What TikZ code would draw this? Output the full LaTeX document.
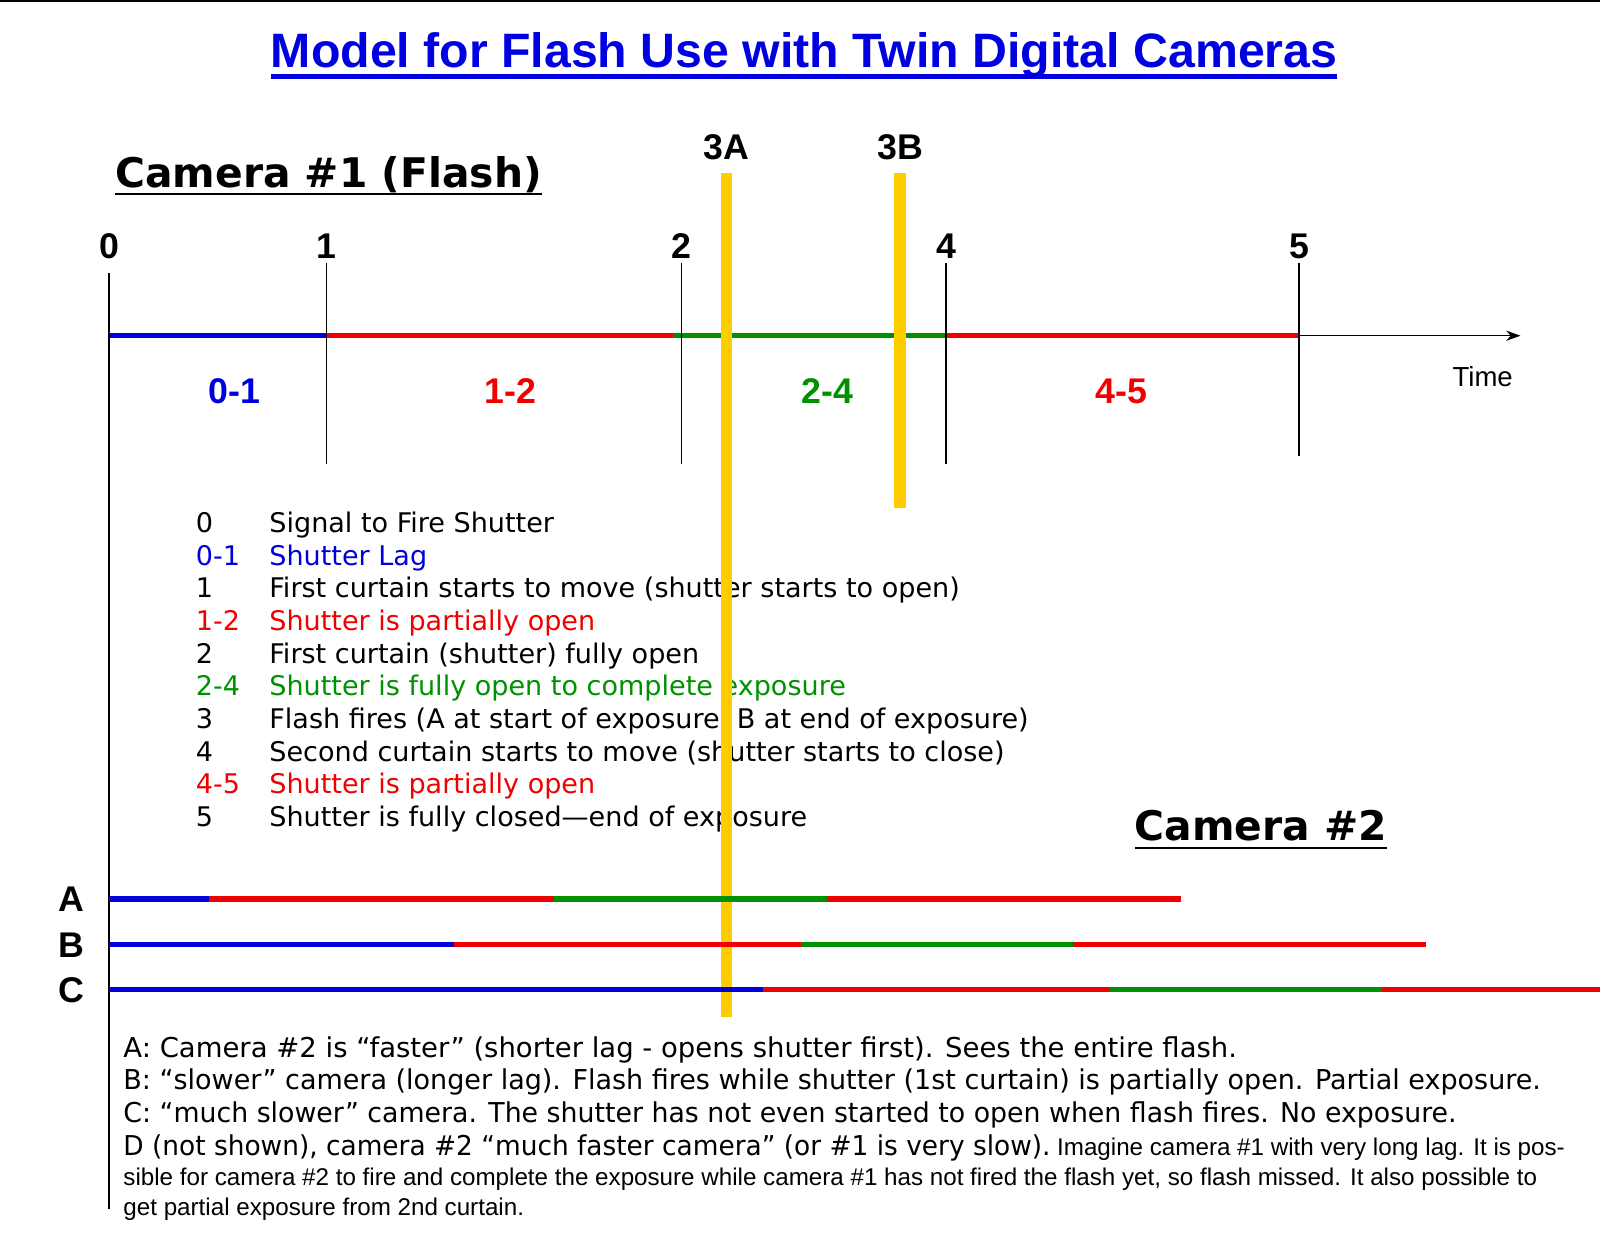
\documentclass[tikz,border=0pt]{standalone}
\usepackage{fontspec}
\usetikzlibrary{arrows.meta,calc}
\newfontfamily\arialf{Liberation Sans}
\newfontfamily\tahf{DejaVu Sans}
\definecolor{tblue}{RGB}{0,0,220}
\definecolor{tred}{RGB}{240,0,0}
\definecolor{tgreen}{RGB}{0,145,0}
\definecolor{flashcol}{RGB}{255,204,0}
\definecolor{titleblue}{RGB}{0,0,225}
\tikzset{
  txt/.style={inner sep=0pt, outer sep=0pt},
  seg/.style={line width=2.5pt},
  tickline/.style={line width=0.7pt, black},
  flashbar/.style={line width=5.5pt, flashcol},
  bignum/.style={txt, anchor=base, font=\arialf\bfseries\fontsize{17.5}{20}\selectfont},
  listnum/.style={txt, anchor=base west, font=\tahf\fontsize{13.25}{15}\selectfont},
  listtxt/.style={txt, anchor=base west, font=\tahf\fontsize{13.25}{15}\selectfont},
  bottomtxt/.style={txt, anchor=base west, font=\tahf\fontsize{13.4}{15}\selectfont},
  smalltxt/.style={txt, anchor=base west, font=\arialf\fontsize{11.85}{14}\selectfont},
  header/.style={txt, anchor=base west, font=\tahf\bfseries\fontsize{20}{24}\selectfont},
}
\begin{document}
\begin{tikzpicture}[x=0.5pt,y=-0.5pt]
\useasboundingbox (0,0) rectangle (1568,1211.3);
% top border
\draw[line width=1pt] (0,1) -- (1568,1);
% title
\node[txt, anchor=base, text=titleblue, font=\arialf\bfseries\fontsize{23.65}{28}\selectfont] (title) at (788,66) {Model for Flash Use with Twin Digital Cameras};
\draw[titleblue, line width=2pt] ($(title.base west)+(0,9)$) -- ($(title.base east)+(0,9)$);
% camera 1 header
\node[header] (cam1) at (113,184) {Camera \#1 (Flash)};
\draw[line width=1pt] ($(cam1.base west)+(0,6)$) -- ($(cam1.base east)+(0,6)$);
% axis coordinates
\coordinate (t0) at (107,329);
\coordinate (t1) at (320,329);
\coordinate (t2g) at (660,329);
\coordinate (t4) at (927,329);
\coordinate (t5) at (1273,329);
\coordinate (tend) at (1490,329);
\draw[seg, tblue] (t0) -- (t1);
\draw[seg, tred] (t1) -- (t2g);
\draw[seg, tgreen] (t2g) -- (t4);
\draw[seg, tred] (t4) -- (t5);
\draw[tickline, -{Stealth[length=7pt,width=5pt]}] (t5) -- (tend);
% tick lines
\coordinate (v0a) at (107,268); \coordinate (v0b) at (107,1185);
\coordinate (v1a) at (320,258); \coordinate (v1b) at (320,455);
\coordinate (v2a) at (668,258); \coordinate (v2b) at (668,455);
\coordinate (v4a) at (927,258); \coordinate (v4b) at (927,455);
\coordinate (v5a) at (1273,258); \coordinate (v5b) at (1273,447);
\draw[tickline] (v0a) -- (v0b);
\draw[tickline] (v1a) -- (v1b);
\draw[tickline] (v2a) -- (v2b);
\draw[tickline] (v4a) -- (v4b);
\draw[tickline] (v5a) -- (v5b);
% tick numbers
\node[bignum] (n0) at (107,253) {0};
\node[bignum] (n1) at (320,253) {1};
\node[bignum] (n2) at (668,253) {2};
\node[bignum] (n4) at (927,253) {4};
\node[bignum] (n5) at (1273,253) {5};
\node[bignum] (n3a) at (712,156) {3A};
\node[bignum] (n3b) at (882,156) {3B};
% range labels
\node[bignum, text=tblue] (r01) at (230,395) {0-1};
\node[bignum, text=tred] (r12) at (500,395) {1-2};
\node[bignum, text=tgreen] (r24) at (811,395) {2-4};
\node[bignum, text=tred] (r45) at (1099,395) {4-5};
\node[txt, anchor=base, font=\arialf\fontsize{13.5}{16}\selectfont] (time) at (1453,379) {Time};
% legend list
\node[listnum] (l0n) at (192,522) {0};
\node[listtxt] (l0t) at (264,522) {Signal to Fire Shutter};
\node[listnum, text=tblue] (l1n) at (192,554) {0-1};
\node[listtxt, text=tblue] (l1t) at (264,554) {Shutter Lag};
\node[listnum] (l2n) at (192,586) {1};
\node[listtxt] (l2t) at (264,586) {First curtain starts to move (shutter starts to open)};
\node[listnum, text=tred] (l3n) at (192,618) {1-2};
\node[listtxt, text=tred] (l3t) at (264,618) {Shutter is partially open};
\node[listnum] (l4n) at (192,650) {2};
\node[listtxt] (l4t) at (264,650) {First curtain (shutter) fully open};
\node[listnum, text=tgreen] (l5n) at (192,682) {2-4};
\node[listtxt, text=tgreen] (l5t) at (264,682) {Shutter is fully open to complete exposure};
\node[listnum] (l6n) at (192,714) {3};
\node[listtxt] (l6t) at (264,714) {Flash fires (A at start of exposure, B at end of exposure)};
\node[listnum] (l7n) at (192,746) {4};
\node[listtxt] (l7t) at (264,746) {Second curtain starts to move (shutter starts to close)};
\node[listnum, text=tred] (l8n) at (192,778) {4-5};
\node[listtxt, text=tred] (l8t) at (264,778) {Shutter is partially open};
\node[listnum] (l9n) at (192,810) {5};
\node[listtxt] (l9t) at (264,810) {Shutter is fully closed—end of exposure};
% camera 2 header
\node[header] (cam2) at (1112,824) {Camera \#2};
\draw[line width=1pt] ($(cam2.base west)+(0,7)$) -- ($(cam2.base east)+(0,7)$);
% flash bars
\coordinate (f3at) at (712,170); \coordinate (f3ab) at (712,997);
\coordinate (f3bt) at (882,170); \coordinate (f3bb) at (882,498);
\draw[flashbar] (f3at) -- (f3ab);
\draw[flashbar] (f3bt) -- (f3bb);
% camera 2 rows
\node[bignum] (la) at (70,893) {A};
\node[bignum] (lb) at (70,938) {B};
\node[bignum] (lc) at (70,982) {C};
\coordinate (a0) at (107,881); \coordinate (a1) at (205,881); \coordinate (a2) at (543,881); \coordinate (a4) at (810,881); \coordinate (a5) at (1157,881);
\coordinate (b0) at (107,926); \coordinate (b1) at (445,926); \coordinate (b2) at (785,926); \coordinate (b4) at (1052,926); \coordinate (b5) at (1397,926);
\coordinate (c0) at (107,970); \coordinate (c1) at (748,970); \coordinate (c2) at (1087,970); \coordinate (c4) at (1354,970); \coordinate (c5) at (1568,970);
\draw[seg, tblue] (a0) -- (a1);
\draw[seg, tred] (a1) -- (a2);
\draw[seg, tgreen] (a2) -- (a4);
\draw[seg, tred] (a4) -- (a5);
\draw[seg, tblue] (b0) -- (b1);
\draw[seg, tred] (b1) -- (b2);
\draw[seg, tgreen] (b2) -- (b4);
\draw[seg, tred] (b4) -- (b5);
\draw[seg, tblue] (c0) -- (c1);
\draw[seg, tred] (c1) -- (c2);
\draw[seg, tgreen] (c2) -- (c4);
\draw[seg, tred] (c4) -- (c5);
% bottom notes
\node[bottomtxt] (na) at (121,1036) {\scalebox{1.005}[1]{A: Camera \#2 is “faster” (shorter lag - opens shutter first). Sees the entire flash.}};
\node[bottomtxt] (nb) at (121,1068) {\scalebox{0.987}[1]{B: “slower” camera (longer lag). Flash fires while shutter (1st curtain) is partially open. Partial exposure.}};
\node[bottomtxt] (nc) at (121,1100) {\scalebox{0.979}[1]{C: “much slower” camera. The shutter has not even started to open when flash fires. No exposure.}};
\node[bottomtxt] (nd) at (121,1132) {\scalebox{0.965}[1]{D (not shown), camera \#2 “much faster camera” (or \#1 is very slow).}};
\node[smalltxt] (nd2) at (1036,1132) {Imagine camera \#1 with very long lag. It is pos-};
\node[smalltxt] (ne) at (121,1162) {sible for camera \#2 to fire and complete the exposure while camera \#1 has not fired the flash yet, so flash missed. It also possible to};
\node[smalltxt] (nf) at (121,1191) {get partial exposure from 2nd curtain.};
\end{tikzpicture}
\end{document}
